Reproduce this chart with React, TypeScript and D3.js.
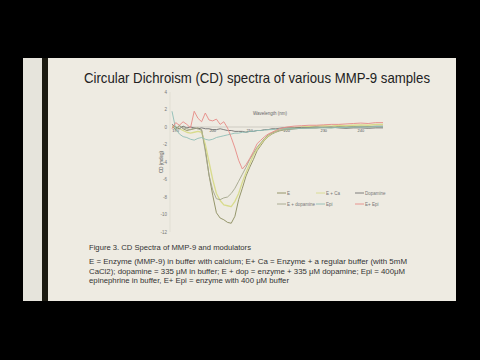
import * as d3 from 'd3'

// wavelength (nm): 1 nm steps through the dip, 2 nm after
const wavelengths = [
  189, 190, 191, 192, 193, 194, 195, 196, 197, 198, 199, 200, 201, 202, 203, 204,
  205, 206, 207, 208, 209, 210, 211, 212, 213, 214, 215, 216, 217, 218, 219, 220,
  222, 224, 226, 228, 230, 232, 234, 236, 238, 240, 242, 244, 246,
]

const cdE = [
  0.1, -0.3, 0.2, -0.2, -0.4, -0.3, -0.2, -0.1, -0.3, -2.5, -5.5, -7.8, -9.8, -10.4, -10.6, -10.9,
  -11.0, -10.2, -8.3, -7.0, -5.6, -4.6, -3.7, -2.7, -2.1, -1.5, -1.1, -0.8, -0.6, -0.45, -0.35, -0.3,
  -0.2, -0.15, -0.1, -0.1, 0, -0.05, 0.05, 0, 0.05, 0.1, 0.05, 0.1, 0.1,
]
const cdECa = [
  0.1, 0.0, -0.2, -0.4, -0.6, -0.7, -0.6, -0.5, -0.6, -2.0, -4.0, -6.0, -7.6, -8.4, -8.9, -9.0,
  -9.1, -8.5, -7.6, -6.3, -5.2, -4.2, -3.2, -2.5, -1.9, -1.4, -1.0, -0.7, -0.5, -0.35, -0.25, -0.2,
  -0.1, 0, 0.05, 0.1, 0.15, 0.1, 0.2, 0.15, 0.2, 0.25, 0.2, 0.3, 0.3,
]
const cdDopamine = [
  0.3, 0.0, -0.2, 0.1, -0.1, 0.0, -0.1, -0.2, -0.1, -0.2, -0.2, -0.3, -0.3, -0.2, -0.3, -0.4,
  -0.4, -0.5, -0.5, -0.5, -0.6, -0.5, -0.5, -0.4, -0.4, -0.3, -0.3, -0.2, -0.2, -0.15, -0.1, -0.1,
  -0.1, -0.05, -0.05, 0, -0.05, 0, -0.1, -0.15, -0.1, -0.1, -0.15, -0.1, -0.1,
]
const cdEDop = [
  0, -0.2, 0.1, -0.1, -0.2, -0.3, -0.1, -0.2, -0.4, -2.8, -5.5, -7.2, -8.2, -8.3, -8.1, -8.0,
  -7.6, -7.0, -6.2, -5.4, -4.6, -3.7, -3.0, -2.3, -1.8, -1.3, -0.9, -0.7, -0.5, -0.4, -0.3, -0.3,
  -0.2, -0.15, -0.1, -0.1, -0.05, -0.1, 0, -0.05, 0, 0.05, 0, 0.05, 0.05,
]
const cdEpi = [
  1.8, -0.2, -0.8, -1.1, -1.2, -1.4, -1.5, -1.3, -1.2, -1.4, -1.5, -1.4, -1.2, -1.1, -1.0, -0.9,
  -0.8, -0.7, -0.7, -0.6, -0.6, -0.5, -0.5, -0.4, -0.4, -0.35, -0.3, -0.3, -0.25, -0.25, -0.2, -0.2,
  -0.2, -0.15, -0.15, -0.1, -0.1, -0.1, -0.05, -0.05, 0, 0, 0, 0.05, 0.05,
]
const cdEEpi = [
  -0.2, 0.5, 0.2, 0.6, 0.3, -0.1, 1.8, 1.0, 0.6, 1.6, 0.8, 0.7, 0.9, 0.3, 0.6, -0.1,
  -1.2, -2.4, -3.8, -4.8, -4.3, -3.6, -2.8, -1.9, -1.5, -1.1, -0.8, -0.6, -0.4, -0.2, -0.1, 0.0,
  0.1, 0.15, 0.2, 0.2, 0.25, 0.3, 0.3, 0.35, 0.4, 0.45, 0.4, 0.5, 0.5,
]

const seriesNames = ['E', 'E + Ca', 'Dopamine', 'E + dopamine', 'Epi', 'E+ Epi']
const seriesValues = [cdE, cdECa, cdDopamine, cdEDop, cdEpi, cdEEpi]
const seriesColors = ['#8a8b5c', '#d8db8c', '#707070', '#a3a58a', '#8fbdb6', '#e68a86']

const yTicks = [4, 2, 0, -2, -4, -6, -8, -10, -12]
const xTicks = [190, 200, 210, 220, 230, 240]

const captionTitle = 'Figure 3. CD Spectra of MMP-9 and modulators'
const captionLines = [
  'E = Enzyme (MMP-9) in buffer with calcium; E+ Ca = Enzyme +  a regular buffer (with 5mM',
  'CaCl2); dopamine = 335 μM in buffer;  E + dop = enzyme + 335 μM dopamine; Epi = 400μM',
  'epinephrine in buffer, E+ Epi = enzyme with 400 μM buffer',
]

export default function App() {
  const x = d3.scaleLinear().domain([189, 246]).range([172, 383])
  const y = d3.scaleLinear().domain([-12, 4]).range([232, 92])

  const line = d3
    .line<number>()
    .x((_, i) => x(wavelengths[i]))
    .y((d) => y(d))

  const font = "'Liberation Sans', Arial, sans-serif"

  return (
    <svg width={480} height={360} style={{ position: 'absolute', left: 0, top: 0, display: 'block' }}>
      <rect width={480} height={360} fill="#000" />
      {/* slide */}
      <rect x={23} y={58} width={433} height={243} fill="#eeebe2" />
      <rect x={23} y={58} width={19} height={243} fill="#e6e4dc" />
      <rect x={42} y={58} width={6} height={243} fill="#1c1b12" />

      <text x={84} y={83} fontFamily={font} fontSize={14.5}
        fill="#222" textLength={346} lengthAdjust="spacingAndGlyphs">
        Circular Dichroism (CD) spectra of various MMP-9 samples
      </text>

      {/* axes */}
      <line x1={170} x2={170} y1={92} y2={232} stroke="#d8d6cf" strokeWidth={0.6} />
      <line x1={172} x2={383} y1={y(0)} y2={y(0)} stroke="#b8b6ae" strokeWidth={0.6} />
      {yTicks.map((t) => (
        <text key={t} x={167} y={y(t) + 1.5} fontSize={4.5} textAnchor="end" fill="#777" fontFamily={font}>
          {t}
        </text>
      ))}
      {xTicks.map((t) => (
        <text key={t} x={x(t)} y={y(0) + 5} fontSize={4} textAnchor="middle" fill="#555" fontFamily={font}>
          {t}
        </text>
      ))}
      <text x={270} y={115} fontSize={4.5} textAnchor="middle" fill="#666" fontFamily={font}>
        Wavelength (nm)
      </text>
      <text transform={`translate(163,162) rotate(-90)`} fontSize={4.5} textAnchor="middle" fill="#555" fontFamily={font}>
        CD (mdeg)
      </text>

      {/* spectra */}
      {seriesValues.map((vals, i) => (
        <path key={seriesNames[i]} d={line(vals) ?? ''} fill="none" stroke={seriesColors[i]}
          strokeWidth={i === 1 ? 1.3 : 0.9} strokeLinejoin="round" />
      ))}

      {/* legend */}
      {seriesNames.map((name, i) => {
        const col = i % 3
        const row = Math.floor(i / 3)
        const lx = 277 + col * 39
        const ly = 193 + row * 11
        return (
          <g key={name}>
            <line x1={lx} x2={lx + 9} y1={ly} y2={ly} stroke={seriesColors[i]} strokeWidth={0.9} />
            <text x={lx + 10} y={ly + 1.5} fontSize={4.5} fill="#777" fontFamily={font}>
              {name}
            </text>
          </g>
        )
      })}

      {/* caption */}
      <text x={89} y={250} fontSize={7.6} fill="#333" fontFamily={font} textLength={162} lengthAdjust="spacingAndGlyphs">
        {captionTitle}
      </text>
      {captionLines.map((s, i) => (
        <text key={i} x={89} y={264 + i * 9.7} fontSize={7.6} fill="#333" fontFamily={font}
          textLength={i === 0 ? 318 : i === 1 ? 316 : 200} lengthAdjust="spacingAndGlyphs">
          {s}
        </text>
      ))}
    </svg>
  )
}
